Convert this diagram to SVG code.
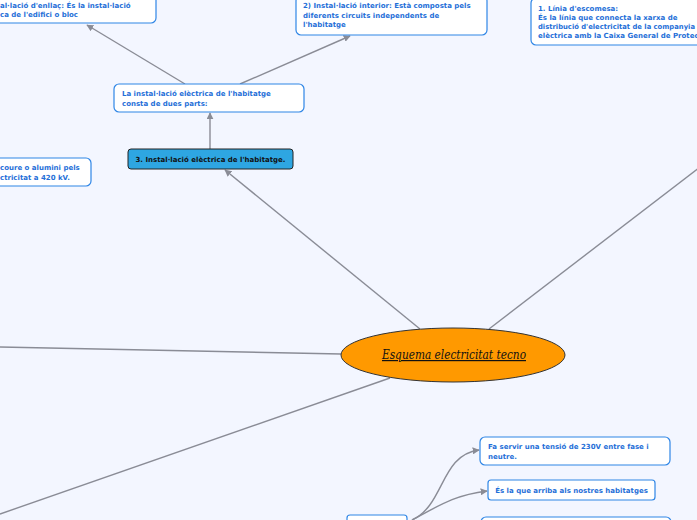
<svg xmlns="http://www.w3.org/2000/svg" width="697" height="520" viewBox="0 0 697 520">
<defs>
<style>
.bg{fill:#f3f6ff}
.box{fill:#ffffff;stroke:#2f86e6;stroke-width:1.2}
.t{font-family:"DejaVu Sans",Verdana,sans-serif;font-weight:bold;font-size:7px;fill:#1f6fd8}
.t3{font-family:"DejaVu Sans",Verdana,sans-serif;font-weight:bold;font-size:7px;fill:#111111}
.c{fill:none;stroke:#8a8c96;stroke-width:1.4}
.title{font-family:"DejaVu Serif",serif;font-style:italic;font-size:12px;fill:#111111;text-decoration:underline}
</style>
<marker id="ar" viewBox="0 0 10 10" refX="9" refY="5" markerWidth="7" markerHeight="7" markerUnits="userSpaceOnUse" orient="auto">
<path d="M0,0 L10,5 L0,10 z" fill="#8a8c96"/>
</marker>
</defs>
<rect class="bg" x="0" y="0" width="697" height="520"/>
<g id="connectors">
<line class="c" x1="420" y1="329" x2="225" y2="170" marker-end="url(#ar)"/>
<line class="c" x1="489" y1="329" x2="700" y2="167"/>
<line class="c" x1="341" y1="354" x2="0" y2="347"/>
<line class="c" x1="390" y1="378" x2="0" y2="514"/>
<line class="c" x1="210" y1="149" x2="210" y2="113" marker-end="url(#ar)"/>
<line class="c" x1="185" y1="84" x2="87" y2="25" marker-end="url(#ar)"/>
<line class="c" x1="240" y1="84" x2="350" y2="36" marker-end="url(#ar)"/>
<path class="c" d="M412,520 C445,505 440,455 479,450" marker-end="url(#ar)"/>
<path class="c" d="M412,520 C440,505 455,495 487,491" marker-end="url(#ar)"/>
</g>
<g id="node-enllac">
<rect class="box" x="-10" y="-8" width="166" height="31" rx="5"/>
<text class="t" x="0" y="8">al·lació d'enllaç: És la instal·lació</text>
<text class="t" x="0" y="17">ca de l'edifici o bloc</text>
</g>
<g id="node-interior">
<rect class="box" x="296" y="-4" width="191" height="39" rx="5"/>
<text class="t" x="303" y="8">2) Instal·lació interior:  Està composta pels</text>
<text class="t" x="303" y="18">diferents circuits independents de</text>
<text class="t" x="303" y="27">l'habitatge</text>
</g>
<g id="node-escomesa">
<rect class="box" x="531" y="-2" width="180" height="47" rx="5"/>
<text class="t" x="538" y="11">1. Línia d'escomesa:</text>
<text class="t" x="538" y="20">És la línia que connecta la xarxa de</text>
<text class="t" x="538" y="29" textLength="157" lengthAdjust="spacingAndGlyphs">distribució d'electricitat de la companyia</text>
<text class="t" x="538" y="38">elèctrica amb la Caixa General de Protec</text>
</g>
<g id="node-dues-parts">
<rect class="box" x="114" y="84" width="190" height="28" rx="5"/>
<text class="t" x="122" y="96">La instal·lació elèctrica de l'habitatge</text>
<text class="t" x="122" y="106">consta de dues parts:</text>
</g>
<g id="node-habitatge">
<rect x="128" y="149" width="165" height="20" rx="3" fill="#2ea6e2" stroke="#222222" stroke-width="1"/>
<text class="t3" x="210.5" y="162" text-anchor="middle">3. Instal·lació elèctrica de l'habitatge.</text>
</g>
<g id="node-coure">
<rect class="box" x="-10" y="158" width="101" height="28" rx="5"/>
<text class="t" x="0" y="170">coure o alumini pels</text>
<text class="t" x="0" y="180">ctricitat a 420 kV.</text>
</g>
<g id="node-center">
<ellipse cx="453" cy="355" rx="112" ry="27" fill="#ff9900" stroke="#333333" stroke-width="1"/>
<text class="title" x="382" y="359" textLength="144" lengthAdjust="spacingAndGlyphs">Esquema electricitat tecno</text>
</g>
<g id="node-230">
<rect class="box" x="480" y="437" width="190" height="28" rx="5"/>
<text class="t" x="488" y="449">Fa servir una tensió de 230V entre fase i</text>
<text class="t" x="488" y="459">neutre.</text>
</g>
<g id="node-arriba">
<rect class="box" x="488" y="480" width="167" height="20" rx="3"/>
<text class="t" x="571.5" y="493" text-anchor="middle">És la que arriba als nostres habitatges</text>
</g>
<g id="node-bottom">
<rect class="box" x="481" y="517" width="190" height="20" rx="5"/>
</g>
<g id="node-bottom-left">
<rect class="box" x="347" y="515" width="60" height="20" rx="3"/>
</g>
</svg>
